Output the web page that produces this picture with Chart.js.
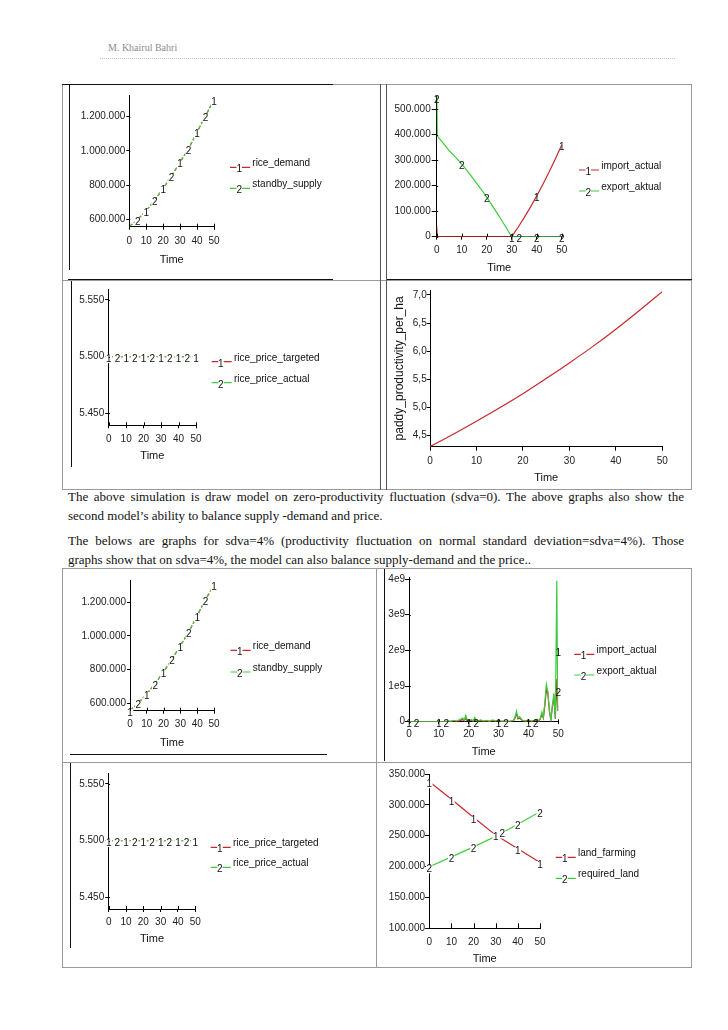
<!DOCTYPE html>
<html>
<head>
<meta charset="utf-8">
<script src="https://cdn.jsdelivr.net/npm/chart.js@4.4.1/dist/chart.umd.min.js"></script>
<style>
  body { margin: 0; background: #fff; }
  #page { position: relative; width: 728px; height: 1030px; overflow: hidden; background: #fff; }
  #page canvas { position: absolute; }
  .ln { position: absolute; }
  .hdr { position: absolute; left: 108px; top: 41px; font: 10px/14px "Liberation Serif", "Times New Roman", serif; color: #8c8c8c; }
  .dots { position: absolute; left: 100px; top: 58px; width: 575px; border-top: 1px dotted #c4c4c4; }
  .txt { position: absolute; left: 68px; width: 616px; font: 13px/19px "Liberation Serif", "Times New Roman", serif; color: #111; white-space: nowrap; }
  .just { text-align: justify; text-align-last: justify; white-space: normal; }
</style>
</head>
<body>
<div id="page">
  <div class="hdr">M. Khairul Bahri</div>
  <div class="dots"></div>
  <div class="txt just" style="top:487px">The above simulation is draw model on zero-productivity fluctuation (sdva=0). The above graphs also show the</div>
  <div class="txt" style="top:506px">second model’s ability to balance supply -demand and price.</div>
  <div class="txt just" style="top:531px">The belows are graphs for sdva=4% (productivity fluctuation on normal standard deviation=sdva=4%). Those</div>
  <div class="txt" style="top:550px">graphs show that on sdva=4%, the model can also balance supply-demand and the price..</div>
</div>
<script>
// ---- data (sdva = 0) ----
const timeA = [0, 5, 10, 15, 20, 25, 30, 35, 40, 45, 50];
const riceDemandA = [558000, 600000, 652000, 712000, 782000, 855000, 935000, 1015000, 1110000, 1205000, 1300000];
const standbySupplyA = [558000, 600000, 652000, 712000, 782000, 855000, 935000, 1015000, 1110000, 1205000, 1300000];

const timeB = [0, 0.25, 2.5, 5, 7.5, 10, 12.5, 15, 17.5, 20, 22.5, 25, 27.5, 30, 32.5, 35, 37.5, 40, 42.5, 45, 47.5, 50];
const importActualB = [40000, 0, 0, 0, 0, 0, 0, 0, 0, 0, 0, 0, 0, 0, 36000, 75000, 116000, 160000, 206000, 255000, 306000, 360000];
const exportAktualB = [600000, 395000, 368000, 338000, 312000, 285000, 255000, 222000, 190000, 155000, 118000, 80000, 40000, 0, 0, 0, 0, 0, 0, 0, 0, 0];

const timeC = [0, 5, 10, 15, 20, 25, 30, 35, 40, 45, 50];
const priceTargetedC = [5500, 5500, 5500, 5500, 5500, 5500, 5500, 5500, 5500, 5500, 5500];
const priceActualC = [5500, 5500, 5500, 5500, 5500, 5500, 5500, 5500, 5500, 5500, 5500];

const timeD = [0, 5, 10, 15, 20, 25, 30, 35, 40, 45, 50];
const paddyProductivityD = [4.30, 4.52, 4.75, 4.99, 5.24, 5.51, 5.79, 6.08, 6.39, 6.72, 7.06];

// ---- data (sdva = 4%) ----
const timeE = [0, 5, 10, 15, 20, 25, 30, 35, 40, 45, 50];
const riceDemandE = [557000, 603000, 657000, 718000, 788000, 862000, 942000, 1025000, 1120000, 1215000, 1300000];
const standbySupplyE = [557000, 603000, 657000, 718000, 788000, 862000, 942000, 1025000, 1120000, 1215000, 1300000];

// values in units of 1e9
const timeF = [0, 5, 10, 12, 13, 14, 15, 16, 17, 18, 18.5, 19, 19.5, 20, 21, 21.5, 22, 22.5, 23, 24,
  25, 26, 27, 28, 29, 30, 31, 32, 33, 34, 35, 35.5, 36, 36.5, 37, 38, 39, 40, 41, 42,
  43, 43.5, 44, 44.5, 45, 45.5, 46, 46.5, 47, 47.5, 48, 48.5, 49, 49.5, 49.8, 50];
const importActualF = [0, 0, 0, 0, 0.01, 0.01, 0.02, 0.01, 0.03, 0.06, 0.02, 0.1, 0.03, 0.02, 0.04, 0.01, 0.08, 0.02, 0.01, 0.03,
  0.01, 0.02, 0.01, 0.03, 0.01, 0.02, 0.01, 0.01, 0.01, 0.01, 0.03, 0.1, 0.22, 0.08, 0.1, 0.03, 0.01, 0.03, 0.01, 0.02,
  0.05, 0.01, 0.08, 0.2, 0.1, 0.45, 0.9, 0.8, 0.3, 0.05, 0.4, 0.7, 0.08, 1.2, 0.3, 0.45];
const exportAktualF = [0, 0, 0, 0, 0.02, 0.01, 0.04, 0.02, 0.06, 0.1, 0.04, 0.18, 0.05, 0.03, 0.06, 0.02, 0.12, 0.04, 0.02, 0.05,
  0.02, 0.04, 0.01, 0.05, 0.02, 0.04, 0.01, 0.02, 0.01, 0.02, 0.04, 0.12, 0.3, 0.1, 0.15, 0.04, 0.02, 0.05, 0.02, 0.04,
  0.07, 0.02, 0.1, 0.27, 0.12, 0.55, 1.05, 0.85, 0.35, 0.05, 0.45, 0.78, 0.1, 3.95, 0.3, 0.9];

const timeG = [0, 5, 10, 15, 20, 25, 30, 35, 40, 45, 50];
const priceTargetedG = [5500, 5500, 5500, 5500, 5500, 5500, 5500, 5500, 5500, 5500, 5500];
const priceActualG = [5500, 5500, 5500, 5500, 5500, 5500, 5500, 5500, 5500, 5500, 5500];

const timeH = [0, 10, 20, 30, 40, 50];
const landFarmingH = [337500, 309000, 279500, 251000, 229000, 206500];
const requiredLandH = [199700, 215800, 232000, 249000, 268700, 289000];

// tick labels
const timeTicks = [0, 10, 20, 30, 40, 50];
const demandTicks = [600000, 800000, 1000000, 1200000];
const tradeTicksB = [0, 100000, 200000, 300000, 400000, 500000];
const priceTicks = [5450, 5500, 5550];
const paddyTicks = [4.5, 5.0, 5.5, 6.0, 6.5, 7.0];
const tradeTicksF = [0, 1, 2, 3, 4];
const landTicks = [100000, 150000, 200000, 250000, 300000, 350000];

// "1"/"2" curve markers: [time, series, value (optional)]
const numsA = [[5, '2'], [10, '1'], [15, '2'], [20, '1'], [25, '2'], [30, '1'], [35, '2'], [40, '1'], [45, '2'], [50, '1']];
const numsB = [[0, '2', 545000], [10, '2'], [20, '2'], [30, '1'], [33, '2', 0], [40, '1'], [40, '2'], [50, '1'], [50, '2']];
const numsC = [[0, '1'], [5, '2'], [10, '1'], [15, '2'], [20, '1'], [25, '2'], [30, '1'], [35, '2'], [40, '1'], [45, '2'], [50, '1']];
const numsE = [[0, '1'], [5, '2'], [10, '1'], [15, '2'], [20, '1'], [25, '2'], [30, '1'], [35, '2'], [40, '1'], [45, '2'], [50, '1']];
const numsF = [[0, '1', 0], [2.5, '2', 0], [10, '1', 0], [12.5, '2', 0], [20, '1', 0], [22.5, '2', 0], [30, '1', 0], [32.5, '2', 0],
  [40, '1', 0], [42.5, '2', 0], [50, '1', 2.0], [50, '2', 0.87]];
const numsG = [[0, '1'], [5, '2'], [10, '1'], [15, '2'], [20, '1'], [25, '2'], [30, '1'], [35, '2'], [40, '1'], [45, '2'], [50, '1']];
const numsH = [[0, '1'], [0, '2'], [10, '1'], [10, '2'], [20, '1'], [20, '2'], [30, '1'], [33, '2', 256000], [40, '1'], [40, '2'], [50, '1'], [50, '2']];

const page = document.getElementById('page');
const FONT = '"Liberation Sans", Arial, Helvetica, sans-serif';
const RED = '#c9282b';
const GREEN = '#3dcc3d';

// table borders and the black edges of the pasted pictures
const GRAY = '#9a9a9a', INK = '#111';
const rules = [
  [62, 84, 630, 1, GRAY], [62, 489, 630, 1, GRAY], [62, 84, 1, 406, GRAY], [691, 84, 1, 406, GRAY],
  [62, 280, 630, 1, GRAY], [380, 84, 1, 406, '#555'], [386, 84, 1, 406, '#555'],
  [62, 84, 271, 1, INK], [69, 85, 1, 185, INK], [68, 279, 265, 1, INK], [387, 279, 305, 1, INK], [71, 281, 1, 186, INK],
  [62, 568, 630, 1, GRAY], [62, 967, 630, 1, GRAY], [62, 568, 1, 400, GRAY], [691, 568, 1, 400, GRAY],
  [62, 762, 630, 1, GRAY], [376, 568, 1, 400, GRAY],
  [70, 754, 257, 1, INK], [384, 569, 1, 192, INK], [70, 763, 1, 185, INK]
];
rules.forEach(r => {
  const d = document.createElement('div');
  d.className = 'ln';
  d.style.cssText = `left:${r[0]}px;top:${r[1]}px;width:${r[2]}px;height:${r[3]}px;background:${r[4]}`;
  page.appendChild(d);
});

function pts(xs, ys) {
  return xs.map((x, i) => ({ x: x, y: ys[i] }));
}

function dots(v) {
  return Math.round(v).toString().replace(/\B(?=(\d{3})+(?!\d))/g, '.');
}

function series(label, xs, ys, color, dashed, smooth) {
  return {
    label: label,
    data: pts(xs, ys),
    borderColor: color,
    borderWidth: 1.2,
    borderDash: dashed ? [4, 2] : [],
    pointRadius: 0,
    cubicInterpolationMode: smooth ? 'monotone' : 'default',
    tension: 0,
    order: color === GREEN ? 0 : 1
  };
}

function overlay(o, box) {
  return {
    id: 'stella',
    afterDatasetsDraw(chart) {
      const ctx = chart.ctx, xs = chart.scales.x, ys = chart.scales.y;
      ctx.save();
      ctx.font = '10px ' + FONT;
      ctx.textAlign = 'center';
      ctx.textBaseline = 'middle';
      (o.nums || []).forEach(n => {
        let v = n[2];
        if (v === undefined) {
          const ds = chart.data.datasets[n[1] === '1' ? 0 : 1];
          v = ds.data.find(p => p.x === n[0]).y;
        }
        const px = xs.getPixelForValue(n[0]);
        const py = ys.getPixelForValue(v) + 2.5;
        if (o.numBg) {
          const w = ctx.measureText(n[1]).width;
          ctx.fillStyle = '#fff';
          ctx.fillRect(px - w / 2 - 0.5, py - 4, w + 1, 8);
        }
        ctx.fillStyle = INK;
        ctx.fillText(n[1], px, py);
      });
      ctx.restore();
    },
    afterDraw(chart) {
      const ctx = chart.ctx, a = chart.chartArea;
      ctx.save();
      ctx.strokeStyle = '#000';
      ctx.lineWidth = 1;
      ctx.beginPath();
      if (o.xTick.in) {
        chart.scales.x.ticks.forEach(t => {
          const px = Math.round(chart.scales.x.getPixelForValue(t.value)) + 0.5;
          ctx.moveTo(px, a.bottom);
          ctx.lineTo(px, a.bottom - o.xTick.in);
        });
      }
      if (o.yTick.in) {
        chart.scales.y.ticks.forEach(t => {
          const py = Math.round(chart.scales.y.getPixelForValue(t.value)) + 0.5;
          ctx.moveTo(a.left, py);
          ctx.lineTo(a.left + o.yTick.in, py);
        });
      }
      ctx.stroke();
      if (o.legend) {
        const L = o.legend;
        L.items.forEach((it, i) => {
          const x = L.x - box.x, y = L.y - box.y + i * L.dy;
          ctx.strokeStyle = it.color;
          ctx.lineWidth = 1.2;
          ctx.beginPath();
          ctx.moveTo(x, y); ctx.lineTo(x + 6.5, y);
          ctx.moveTo(x + 12, y); ctx.lineTo(x + 20, y);
          ctx.stroke();
          ctx.fillStyle = INK;
          ctx.font = '10px ' + FONT;
          ctx.textBaseline = 'middle';
          ctx.textAlign = 'center';
          ctx.fillText(it.num, x + 9.2, y + 2.3);
          ctx.textAlign = 'left';
          ctx.fillText(it.text, x + 22.3, y - 3.6);
        });
      }
      ctx.restore();
    }
  };
}

function addChart(id, box, area, o) {
  const cv = document.createElement('canvas');
  cv.id = id;
  cv.width = box.w;
  cv.height = box.h;
  cv.style.left = box.x + 'px';
  cv.style.top = box.y + 'px';
  cv.style.width = box.w + 'px';
  cv.style.height = box.h + 'px';
  page.appendChild(cv);

  const yW = area.l - box.x;
  const xH = o.timeY - area.b + 6.6;
  const tickFont = { family: FONT, size: 10 };

  const yTitle = o.yTitle
    ? { display: true, text: o.yTitle, color: INK, font: { family: FONT, size: 12 }, padding: { top: o.yTitlePad, bottom: 0 } }
    : { display: false };

  new Chart(cv, {
    type: 'line',
    data: { datasets: o.datasets },
    options: {
      responsive: false,
      animation: false,
      devicePixelRatio: 1,
      events: [],
      layout: {
        padding: {
          left: 0,
          top: area.t - box.y,
          right: box.x + box.w - area.r,
          bottom: box.y + box.h - area.b - xH
        }
      },
      plugins: { legend: { display: false }, tooltip: { enabled: false } },
      scales: {
        x: {
          type: 'linear',
          min: 0,
          max: 50,
          afterBuildTicks: s => { s.ticks = timeTicks.map(v => ({ value: v })); },
          afterFit: s => { s.height = xH; s.paddingLeft = 0; s.paddingRight = 0; },
          ticks: {
            font: tickFont, color: '#222', maxRotation: 0, autoSkip: false,
            padding: o.labelY - area.b - o.xTick.out - 6
          },
          grid: { drawOnChartArea: false, drawTicks: o.xTick.out > 0, tickLength: o.xTick.out, color: '#000' },
          border: { color: '#000', width: 1 },
          title: { display: true, text: 'Time', color: INK, font: { family: FONT, size: 11 }, padding: 0 }
        },
        y: {
          type: 'linear',
          min: o.yMin,
          max: o.yMax,
          afterBuildTicks: s => { s.ticks = o.yTicks.map(v => ({ value: v })); },
          afterFit: s => { s.width = yW; s.paddingTop = 0; s.paddingBottom = 0; },
          ticks: { font: tickFont, color: '#222', autoSkip: false, padding: o.yTick.pad, callback: o.yFmt },
          grid: { drawOnChartArea: false, drawTicks: true, tickLength: o.yTick.out, color: '#000' },
          border: { color: '#000', width: 1 },
          title: yTitle
        }
      }
    },
    plugins: [overlay(o, box)]
  });
}

const fmtDots = v => dots(v);

// ---- sdva = 0 ----
addChart('chartA', { x: 72, y: 88, w: 303, h: 188 }, { l: 129.3, t: 95, r: 214, b: 226.7 }, {
  datasets: [
    series('rice_demand', timeA, riceDemandA, RED, true, true),
    series('standby_supply', timeA, standbySupplyA, GREEN, true, true)
  ],
  yMin: 556700, yMax: 1327000, yTicks: demandTicks, yFmt: fmtDots,
  xTick: { out: 3, in: 3 }, yTick: { out: 3, in: 1, pad: 1 },
  labelY: 241.7, timeY: 260,
  nums: numsA, numBg: true,
  legend: { x: 230, y: 167.3, dy: 21, items: [
    { num: '1', text: 'rice_demand', color: RED },
    { num: '2', text: 'standby_supply', color: GREEN }
  ] }
});

addChart('chartB', { x: 388, y: 88, w: 300, h: 190 }, { l: 436.7, t: 96, r: 561.7, b: 236.7 }, {
  datasets: [
    series('import_actual', timeB, importActualB, RED, false, false),
    series('export_aktual', timeB, exportAktualB, GREEN, false, false)
  ],
  yMin: 0, yMax: 552000, yTicks: tradeTicksB, yFmt: fmtDots,
  xTick: { out: 3, in: 3 }, yTick: { out: 5, in: 1.5, pad: 1 },
  labelY: 250, timeY: 268.3,
  nums: numsB, numBg: false,
  legend: { x: 579, y: 170, dy: 21, items: [
    { num: '1', text: 'import_actual', color: RED },
    { num: '2', text: 'export_aktual', color: GREEN }
  ] }
});

addChart('chartC', { x: 74, y: 283, w: 300, h: 200 }, { l: 108.7, t: 289.3, r: 196, b: 425.3 }, {
  datasets: [
    series('rice_price_targeted', timeC, priceTargetedC, RED, true, false),
    series('rice_price_actual', timeC, priceActualC, GREEN, true, false)
  ],
  yMin: 5439.4, yMax: 5559.4, yTicks: priceTicks, yFmt: fmtDots,
  xTick: { out: 3, in: 3 }, yTick: { out: 3.5, in: 1.3, pad: 1 },
  labelY: 439.3, timeY: 455.7,
  nums: numsC, numBg: true,
  legend: { x: 211.7, y: 361.7, dy: 21, items: [
    { num: '1', text: 'rice_price_targeted', color: RED },
    { num: '2', text: 'rice_price_actual', color: GREEN }
  ] }
});

addChart('chartD', { x: 388, y: 283, w: 300, h: 203 }, { l: 430, t: 290, r: 662.3, b: 446.7 }, {
  datasets: [
    series('paddy_productivity_per_ha', timeD, paddyProductivityD, RED, false, true)
  ],
  yMin: 4.297, yMax: 7.089, yTicks: paddyTicks, yFmt: v => v.toFixed(1).replace('.', ','),
  xTick: { out: 4, in: 0 }, yTick: { out: 3.3, in: 0, pad: 0 },
  labelY: 461.7, timeY: 478.3,
  yTitle: 'paddy_productivity_per_ha', yTitlePad: 4.8
});

// ---- sdva = 4% ----
addChart('chartE', { x: 72, y: 572, w: 300, h: 180 }, { l: 130, t: 580, r: 214, b: 710.7 }, {
  datasets: [
    series('rice_demand', timeE, riceDemandE, RED, true, true),
    series('standby_supply', timeE, standbySupplyE, GREEN, true, true)
  ],
  yMin: 556200, yMax: 1330300, yTicks: demandTicks, yFmt: fmtDots,
  xTick: { out: 3, in: 3 }, yTick: { out: 3, in: 1, pad: 1 },
  labelY: 724.3, timeY: 742.7,
  nums: numsE, numBg: true,
  legend: { x: 230.5, y: 650.3, dy: 21.7, items: [
    { num: '1', text: 'rice_demand', color: RED },
    { num: '2', text: 'standby_supply', color: GREEN }
  ] }
});

addChart('chartF', { x: 386, y: 571, w: 302, h: 189 }, { l: 409, t: 577.3, r: 558.3, b: 721.7 }, {
  datasets: [
    series('import_actual', timeF, importActualF, RED, false, false),
    series('export_aktual', timeF, exportAktualF, GREEN, false, false)
  ],
  yMin: 0, yMax: 4.05, yTicks: tradeTicksF, yFmt: v => (v === 0 ? '0' : v + 'e9'),
  xTick: { out: 2.3, in: 2.3 }, yTick: { out: 4, in: 1.7, pad: 0 },
  labelY: 734, timeY: 751.7,
  nums: numsF, numBg: false,
  legend: { x: 574.3, y: 654.3, dy: 20.7, items: [
    { num: '1', text: 'import_actual', color: RED },
    { num: '2', text: 'export_aktual', color: GREEN }
  ] }
});

addChart('chartG', { x: 74, y: 766, w: 298, h: 198 }, { l: 108.7, t: 773.3, r: 195.3, b: 909 }, {
  datasets: [
    series('rice_price_targeted', timeG, priceTargetedG, RED, true, false),
    series('rice_price_actual', timeG, priceActualG, GREEN, true, false)
  ],
  yMin: 5439.7, yMax: 5559.4, yTicks: priceTicks, yFmt: fmtDots,
  xTick: { out: 3, in: 3 }, yTick: { out: 3.5, in: 1.3, pad: 1 },
  labelY: 922.3, timeY: 939,
  nums: numsG, numBg: true,
  legend: { x: 210.7, y: 847.3, dy: 20, items: [
    { num: '1', text: 'rice_price_targeted', color: RED },
    { num: '2', text: 'rice_price_actual', color: GREEN }
  ] }
});

addChart('chartH', { x: 386, y: 766, w: 302, h: 201 }, { l: 429.3, t: 774, r: 540, b: 928.3 }, {
  datasets: [
    series('land_farming', timeH, landFarmingH, RED, false, false),
    series('required_land', timeH, requiredLandH, GREEN, false, false)
  ],
  yMin: 100000, yMax: 350000, yTicks: landTicks, yFmt: fmtDots,
  xTick: { out: 0, in: 5 }, yTick: { out: 4.3, in: 0, pad: 0 },
  labelY: 942.7, timeY: 959.3,
  nums: numsH, numBg: true,
  legend: { x: 555.7, y: 857.3, dy: 21, items: [
    { num: '1', text: 'land_farming', color: RED },
    { num: '2', text: 'required_land', color: GREEN }
  ] }
});
</script>
</body>
</html>
